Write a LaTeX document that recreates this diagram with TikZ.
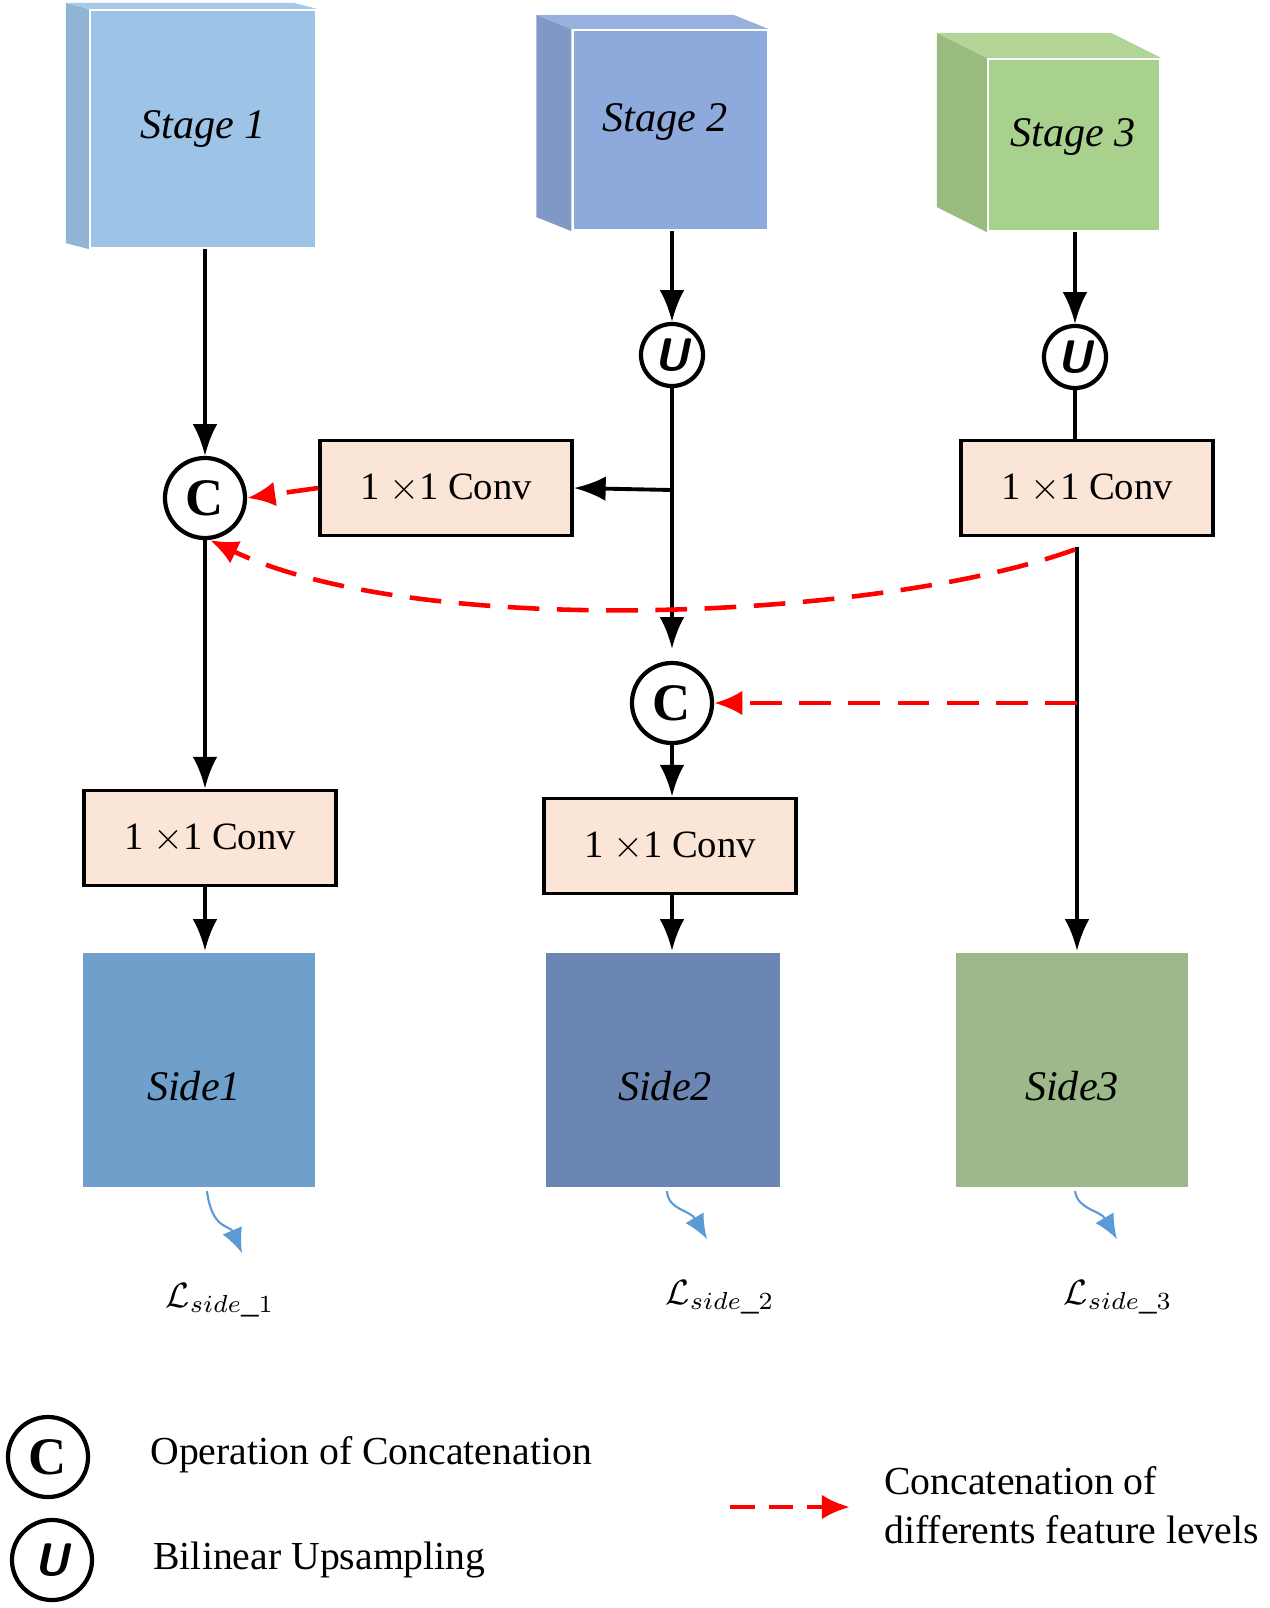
\documentclass[tikz,border=0pt]{standalone}
\usepackage{fontspec}
\setmainfont{Liberation Serif}
\usetikzlibrary{arrows.meta,calc,positioning}
\definecolor{stgA}{HTML}{9DC3E6}
\definecolor{stgB}{HTML}{8EA9DB}
\definecolor{stgC}{HTML}{A9D18E}
\definecolor{sidA}{HTML}{6FA0CC}
\definecolor{sidB}{HTML}{6C86B3}
\definecolor{sidC}{HTML}{9DB88A}
\definecolor{convfill}{HTML}{FBE5D6}
\definecolor{lossblue}{HTML}{5B9BD5}
\begin{document}
\begin{tikzpicture}[x=0.01cm,y=-0.01cm,>={Latex[length=9pt,width=7pt]},
  every node/.append style={align=center},
  face/.style={draw=white, line width=0.6pt, inner sep=0pt},
  conv/.style={draw, line width=1.1pt, fill=convfill, minimum width=2.52cm, minimum height=0.95cm, font=\fontsize{11}{13}\selectfont},
  concat/.style={circle, draw, line width=1.2pt, minimum size=0.8cm, inner sep=0pt, font=\fontsize{15}{15}\selectfont\bfseries},
  upsam/.style={circle, draw, line width=1.2pt, minimum size=0.62cm, inner sep=0pt, font=\fontsize{13}{13}\selectfont\sffamily\bfseries\itshape},
  flow/.style={->, line width=1.1pt},
  red dash/.style={->, red, line width=1.3pt, dash pattern=on 9pt off 5pt, >={Latex[length=8pt,width=7pt]}},
  loss/.style={->, lossblue, line width=0.6pt, >={Latex[length=7pt,width=6pt]}},
  lbl/.style={font=\fontsize{12}{14}\selectfont\itshape},
  legend/.style={anchor=west, font=\fontsize{11.3}{14}\selectfont}]
\useasboundingbox (0,0) rectangle (1270,1608);
% stage cubes
\node [face, fill=stgA, minimum width=2.26cm, minimum height=2.38cm] (S1) at (203,129) {};
\fill [stgA!92!black] (S1.north west) -- ++(-23,-6) -- ($(S1.south west)+(-23,-6)$) -- (S1.south west) -- cycle;
\fill [stgA!90!white] (S1.north west) -- ++(-23,-6) -- ($(S1.north east)+(-23,-6)$) -- (S1.north east) -- cycle;
\node [lbl] at (S1) {Stage 1};
\node [face, fill=stgB, minimum width=1.95cm, minimum height=2.0cm] (S2) at (670,130) {};
\fill [stgB!90!black] (S2.north west) -- ++(-35,-14) -- ($(S2.south west)+(-35,-14)$) -- (S2.south west) -- cycle;
\fill [stgB!92!white] (S2.north west) -- ++(-35,-14) -- ($(S2.north east)+(-35,-14)$) -- (S2.north east) -- cycle;
\node [lbl] at ($(S2)+(-5,-8)$) {Stage 2};
\node [face, fill=stgC, minimum width=1.72cm, minimum height=1.72cm] (S3) at (1074,145) {};
\fill [stgC!90!black] (S3.north west) -- ++(-50,-25) -- ($(S3.south west)+(-50,-25)$) -- (S3.south west) -- cycle;
\fill [stgC!92!white] (S3.north west) -- ++(-50,-25) -- ($(S3.north east)+(-50,-25)$) -- (S3.north east) -- cycle;
\node [lbl] at ($(S3)+(-1,-8)$) {Stage 3};
% operations
\node [upsam] (U2) at (672,355) {U};
\node [upsam] (U3) at (1075,357) {U};
\node [concat] (C1) at (205,498) {C};
\node [concat] (C2) at (672,703) {C};
\node [conv] (K2) at (446,488) {1 $\times$1 Conv};
\node [conv] (K3) at (1087,488) {1 $\times$1 Conv};
\node [conv] (K1) at (210,838) {1 $\times$1 Conv};
\node [conv] (K4) at (670,846) {1 $\times$1 Conv};
% side outputs
\node [face, fill=sidA, minimum width=2.34cm, minimum height=2.36cm] (D1) at (199,1070) {};
\node [face, fill=sidB, minimum width=2.35cm, minimum height=2.36cm] (D2) at (663,1070) {};
\node [face, fill=sidC, minimum width=2.33cm, minimum height=2.36cm] (D3) at (1072,1070) {};
\node [lbl] at ($(D1)+(-5,16)$) {Side1};
\node [lbl] at ($(D2)+(2,16)$) {Side2};
\node [lbl] at ($(D3)+(0,16)$) {Side3};
\node (L1) at (220,1300) {$\mathcal{L}_{side\_1}$};
\node (L2) at (720,1297) {$\mathcal{L}_{side\_2}$};
\node (L3) at (1118,1297) {$\mathcal{L}_{side\_3}$};
\coordinate (B2) at (672,490);
\coordinate (B3) at (1077,703);
% connectors
\draw [flow] (S1.south -| C1) -- (C1.north);
\draw [flow] (C1) -- (K1.north -| C1);
\draw [flow] (K1.south -| C1) -- (D1.north -| C1);
\draw [flow] (S2.south -| U2) -- (U2.north);
\draw [flow] (U2) -- ($(C2.north)+(0,-12)$);
\draw [flow] (B2) -- (K2.east);
\draw [flow] (C2) -- (K4.north -| C2);
\draw [flow] (K4.south -| C2) -- (D2.north -| C2);
\draw [flow] (S3.south -| U3) -- (U3.north);
\draw [line width=1.1pt] (U3) -- (K3.north -| U3);
\draw [flow] ($(K3.south)+(-10,10)$) -- (D3.north -| B3);
\draw [red dash] (K2.west) -- (C1.east);
\draw [red dash] (B3) -- (C2.east);
\draw [red dash] ($(K3.south)+(-12,12)$) .. controls (880,620) and (420,640) .. ($(C1.south)+(5,0)$);
\draw [loss] ($(D1.south)+(8,2)$) .. controls (212,1230) and (230,1225) .. ++(35,62);
\draw [loss] ($(D2.south)+(4,2)$) .. controls (668,1210) and (690,1210) .. ++(40,48);
\draw [loss] ($(D3.south)+(3,2)$) .. controls (1078,1210) and (1100,1210) .. ++(42,48);
% legend
\node [concat] (LC) at (48,1457) {C};
\node [upsam, minimum size=0.8cm] (LU) at (52,1560) {U};
\node [legend] (TC) at (138,1455) {Operation of Concatenation};
\node [legend] (TU) at (141,1560) {Bilinear Upsampling};
\coordinate (RA) at (730,1507);
\coordinate (RB) at (850,1507);
\draw [red dash, dash pattern=on 7pt off 4pt] (RA) -- (RB);
\node [legend, align=left] (TR) at (872,1505) {Concatenation of\\differents feature levels};
\end{tikzpicture}
\end{document}
